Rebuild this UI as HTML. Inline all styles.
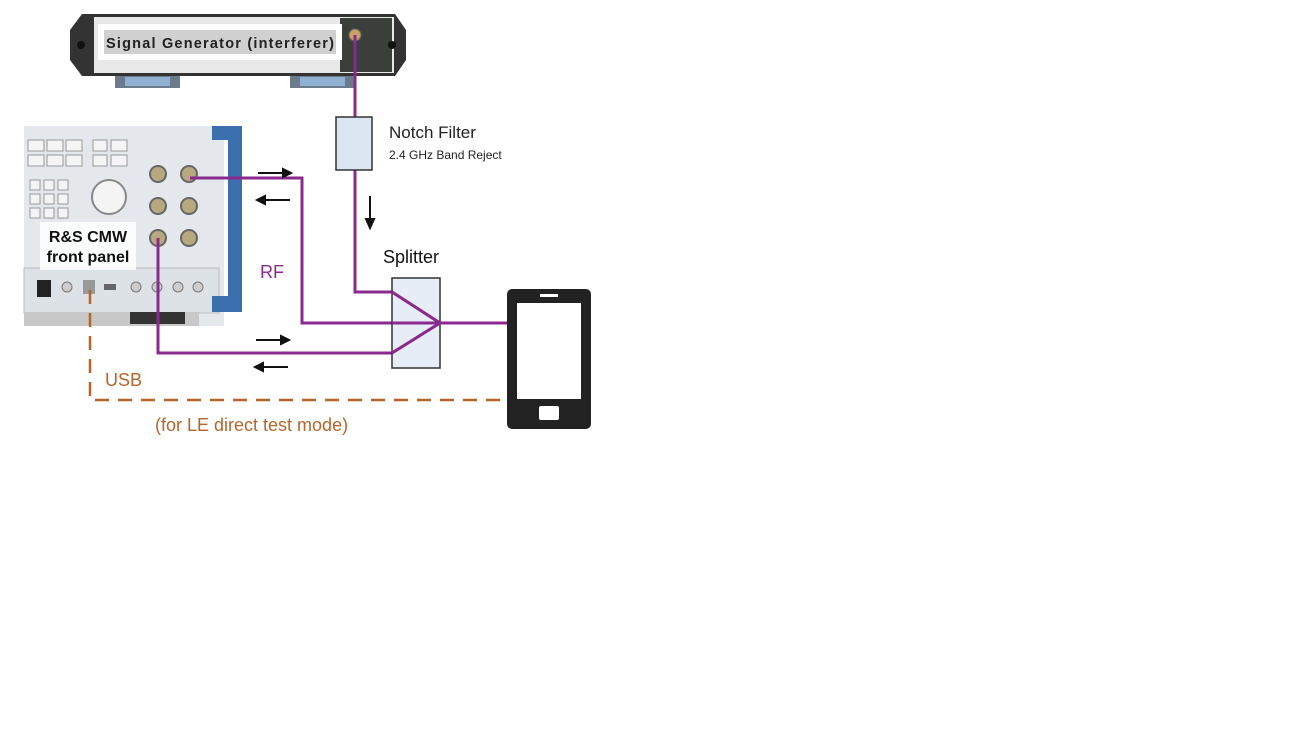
<!DOCTYPE html>
<html><head><meta charset="utf-8"><style>
html,body{margin:0;padding:0;background:#fff;width:1300px;height:731px;overflow:hidden}
svg{display:block}
text{font-family:"Liberation Sans",sans-serif}
</style></head><body>
<svg width="1300" height="731" viewBox="0 0 1300 731">
<!-- Signal generator -->
<rect x="115" y="74" width="65" height="14" fill="#6a7b8a"/>
<rect x="290" y="74" width="65" height="14" fill="#6a7b8a"/>
<rect x="125" y="77" width="45" height="9" fill="#8fb0d0"/>
<rect x="300" y="77" width="45" height="9" fill="#8fb0d0"/>
<path d="M82 14 H395 L406 30 V60 L395 76 H82 L70 60 V30 Z" fill="#333"/>
<rect x="94" y="17" width="300" height="56" fill="#e8e8e8"/>
<rect x="340" y="18" width="52" height="54" fill="#3a3f3a"/>
<rect x="98" y="24" width="244" height="36" fill="#fff"/>
<rect x="104" y="30" width="232" height="24" fill="#d0d0d0"/>
<circle cx="81" cy="45" r="4" fill="#111"/>
<circle cx="392" cy="45" r="4" fill="#111"/>
<text x="106" y="48" font-size="14.5" font-weight="bold" fill="#222" textLength="228">Signal Generator (interferer)</text>
<circle cx="355" cy="35" r="6" fill="#c8a060" stroke="#666"/>
<!-- CMW panel -->
<rect x="24" y="126" width="200" height="200" fill="#e4e8ec"/>
<rect x="24" y="268" width="195" height="45" fill="#dde2e6" stroke="#bbb"/>
<rect x="24" y="312" width="175" height="14" fill="#c8c8c8"/>
<rect x="130" y="312" width="55" height="12" fill="#333"/>
<path d="M212 126 H242 V312 H212 V296 H228 V140 H212 Z" fill="#3c6fae"/>
<g fill="#f4f4f4" stroke="#999">
<rect x="28" y="140" width="16" height="11"/><rect x="47" y="140" width="16" height="11"/><rect x="66" y="140" width="16" height="11"/>
<rect x="28" y="155" width="16" height="11"/><rect x="47" y="155" width="16" height="11"/><rect x="66" y="155" width="16" height="11"/>
<rect x="93" y="140" width="14" height="11"/><rect x="111" y="140" width="16" height="11"/>
<rect x="93" y="155" width="14" height="11"/><rect x="111" y="155" width="16" height="11"/>
<rect x="30" y="180" width="10" height="10"/><rect x="44" y="180" width="10" height="10"/><rect x="58" y="180" width="10" height="10"/>
<rect x="30" y="194" width="10" height="10"/><rect x="44" y="194" width="10" height="10"/><rect x="58" y="194" width="10" height="10"/>
<rect x="30" y="208" width="10" height="10"/><rect x="44" y="208" width="10" height="10"/><rect x="58" y="208" width="10" height="10"/>
</g>
<circle cx="109" cy="197" r="17" fill="#f4f4f4" stroke="#888" stroke-width="2"/>
<g fill="#b8a880" stroke="#666" stroke-width="2">
<circle cx="158" cy="174" r="8"/><circle cx="189" cy="174" r="8"/>
<circle cx="158" cy="206" r="8"/><circle cx="189" cy="206" r="8"/>
<circle cx="158" cy="238" r="8"/><circle cx="189" cy="238" r="8"/>
</g>
<g fill="#ccc" stroke="#777"><circle cx="67" cy="287" r="5"/><circle cx="136" cy="287" r="5"/><circle cx="157" cy="287" r="5"/><circle cx="178" cy="287" r="5"/><circle cx="198" cy="287" r="5"/></g>
<rect x="37" y="280" width="14" height="17" fill="#222"/>
<rect x="83" y="280" width="12" height="14" fill="#999"/>
<rect x="104" y="284" width="12" height="6" fill="#666"/>
<rect x="40" y="222" width="96" height="48" fill="#fff" opacity="0.85"/>
<text x="88" y="242" font-size="16" font-weight="bold" text-anchor="middle" fill="#111">R&amp;S CMW</text>
<text x="88" y="262" font-size="16" font-weight="bold" text-anchor="middle" fill="#111">front panel</text>
<!-- USB dashed -->
<path d="M90 290 V400 H507" fill="none" stroke="#b5652a" stroke-width="2.5" stroke-dasharray="14,9"/>
<text x="105" y="386" font-size="18" fill="#b5652a">USB</text>
<text x="155" y="431" font-size="18" fill="#b5652a">(for LE direct test mode)</text>
<!-- purple lines -->
<g fill="none" stroke="#8b2a8e" stroke-width="3">
<path d="M355 35 V117"/>
<path d="M355 170 V292 H392 L440 323"/>
<path d="M190 178 H302 V323 H508"/>
<path d="M158 238 V353 H392 L440 323"/>
</g>
<rect x="336" y="117" width="36" height="53" fill="#dce6f2" stroke="#333" stroke-width="1.5"/>
<rect x="392" y="278" width="48" height="90" fill="#dce6f2" fill-opacity="0.7" stroke="#333" stroke-width="1.5"/>
<g fill="none" stroke="#8b2a8e" stroke-width="3"><path d="M392 292 L440 323 L392 353"/><path d="M392 323 H440"/></g>
<text x="389" y="138" font-size="17" fill="#222">Notch Filter</text>
<text x="389" y="159" font-size="12" fill="#222">2.4 GHz Band Reject</text>
<text x="383" y="263" font-size="18" fill="#111">Splitter</text>
<text x="260" y="278" font-size="18" fill="#8b2a8e">RF</text>
<!-- arrows -->
<g stroke="#111" stroke-width="2" fill="#111">
<path d="M258 173 H284"/><path d="M291 173 L283 169 L283 177 Z"/>
<path d="M264 200 H290"/><path d="M257 200 L265 196 L265 204 Z"/>
<path d="M256 340 H282"/><path d="M289 340 L281 336 L281 344 Z"/>
<path d="M262 367 H288"/><path d="M255 367 L263 363 L263 371 Z"/>
<path d="M370 196 V220"/><path d="M370 228 L366 219 L374 219 Z"/>
</g>
<!-- phone -->
<rect x="507" y="289" width="84" height="140" rx="5" fill="#222"/>
<rect x="517" y="303" width="64" height="96" fill="#fff"/>
<rect x="540" y="294" width="18" height="3" fill="#fff"/>
<rect x="539" y="406" width="20" height="14" rx="2" fill="#fff"/>
</svg>
</body></html>
